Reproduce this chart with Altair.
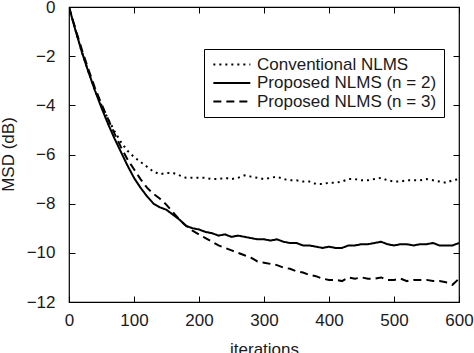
import altair as alt
import pandas as pd

iterations = list(range(0, 601, 10))

conventional = [0, -0.95, -1.85, -2.65, -3.4, -4.0, -4.55, -5.05, -5.5, -5.85,
                -6.1, -6.3, -6.5, -6.7, -6.8, -6.75, -6.75, -6.85, -6.95, -6.95,
                -6.95, -6.95, -7.0, -7.0, -6.95, -7.0, -6.95, -6.85, -6.9, -6.95,
                -7.0, -6.95, -6.9, -7.0, -7.05, -7.05, -7.1, -7.1, -7.2, -7.2,
                -7.15, -7.15, -7.1, -7.0, -7.0, -7.05, -7.05, -7.0, -6.95, -7.05,
                -7.1, -7.1, -7.05, -7.05, -7.05, -7.0, -7.05, -7.1, -7.15, -7.05,
                -7.0]

proposed_n2 = [0, -0.95, -1.85, -2.65, -3.4, -4.1, -4.75, -5.35, -5.9, -6.45,
               -6.95, -7.35, -7.7, -8.0, -8.15, -8.25, -8.45, -8.65, -8.9, -9.0,
               -9.05, -9.15, -9.2, -9.3, -9.25, -9.35, -9.3, -9.35, -9.4, -9.45,
               -9.45, -9.5, -9.45, -9.55, -9.6, -9.6, -9.7, -9.7, -9.75, -9.8,
               -9.75, -9.8, -9.8, -9.7, -9.7, -9.65, -9.65, -9.6, -9.55, -9.65,
               -9.7, -9.65, -9.65, -9.7, -9.65, -9.65, -9.6, -9.7, -9.7, -9.7,
               -9.6]

proposed_n3 = [0, -0.9, -1.75, -2.55, -3.3, -3.95, -4.55, -5.15, -5.7, -6.2,
               -6.6, -7.0, -7.35, -7.6, -7.8, -8.05, -8.35, -8.65, -8.9, -9.1,
               -9.25, -9.4, -9.55, -9.7, -9.8, -9.9, -10.0, -10.1, -10.2, -10.35,
               -10.4, -10.45, -10.5, -10.6, -10.65, -10.75, -10.8, -10.9, -10.95, -11.05,
               -11.1, -11.1, -11.15, -11.0, -11.05, -11.0, -11.05, -11.05, -11.0, -11.1,
               -11.1, -11.05, -11.15, -11.1, -11.1, -11.1, -11.15, -11.15, -11.2, -11.3,
               -11.05]

series_names = ["Conventional NLMS", "Proposed NLMS (n = 2)", "Proposed NLMS (n = 3)"]
x_ticks = [0, 100, 200, 300, 400, 500, 600]
y_ticks = [0, -2, -4, -6, -8, -10, -12]

rows = []
for name, vals in zip(series_names, [conventional, proposed_n2, proposed_n3]):
    for it, v in zip(iterations, vals):
        rows.append({"it": it, "value": v, "series": name})
df = pd.DataFrame(rows)

FONT = "Liberation Sans"
FS = 17
xs = alt.Scale(domain=[0, 600], nice=False, zero=False)
ys = alt.Scale(domain=[-12, 0], nice=False, zero=False)

lines = alt.Chart(df).mark_line(strokeWidth=2, color="black", clip=True).encode(
    x=alt.X("it:Q", scale=xs, axis=alt.Axis(
        orient="bottom", values=x_ticks, tickSize=0, domain=False, grid=False,
        labelFontSize=FS, labelFont=FONT, labelColor="#1a1a1a", labelPadding=10,
        labelFlush=False, labelOverlap=False, labelBound=False,
        title="iterations", titleFont=FONT, titleFontSize=FS, titleFontWeight="normal",
        titleColor="#1a1a1a", titleX=195, titleY=52, titleAlign="center",
        titleBaseline="alphabetic")),
    y=alt.Y("value:Q", scale=ys, axis=alt.Axis(
        orient="left", values=y_ticks, tickSize=0, domain=False, grid=False,
        labelFontSize=FS, labelFont=FONT, labelColor="#1a1a1a", labelPadding=14,
        labelFlush=False, labelOverlap=False, labelBound=False,
        title="MSD (dB)", titleFont=FONT, titleFontSize=FS, titleFontWeight="normal",
        titleColor="#1a1a1a", titleX=-61, titleY=147, titleAngle=270,
        titleAlign="center", titleBaseline="middle")),
    strokeDash=alt.StrokeDash("series:N", sort=series_names,
        scale=alt.Scale(domain=series_names, range=[[2, 4], [1, 0], [8, 5]]),
        legend=alt.Legend(
            title=None, orient="none", legendX=135, legendY=42,
            strokeColor="black", padding=7, fillColor="white",
            labelFont=FONT, labelFontSize=FS, labelColor="#1a1a1a", labelOffset=29,
            symbolType="M-1,0H5", symbolSize=152, symbolStrokeWidth=2,
            symbolStrokeColor="black", rowPadding=0.5, labelLimit=300)),
)

ticks_bl = alt.Chart(df).mark_point(opacity=0).encode(
    x=alt.X("it:Q", scale=xs, axis=alt.Axis(
        orient="bottom", values=x_ticks, offset=-6, tickSize=6, tickColor="black",
        labels=False, domain=False, grid=False, title=None)),
    y=alt.Y("value:Q", scale=ys, axis=alt.Axis(
        orient="left", values=y_ticks, offset=-6, tickSize=6, tickColor="black",
        labels=False, domain=False, grid=False, title=None)),
)

ticks_tr = alt.Chart(df).mark_point(opacity=0).encode(
    x=alt.X("it:Q", scale=xs, axis=alt.Axis(
        orient="top", values=x_ticks, offset=-6, tickSize=6, tickColor="black",
        labels=False, domain=False, grid=False, title=None)),
    y=alt.Y("value:Q", scale=ys, axis=alt.Axis(
        orient="right", values=y_ticks, offset=-6, tickSize=6, tickColor="black",
        labels=False, domain=False, grid=False, title=None)),
)

chart = alt.layer(lines, ticks_bl, ticks_tr).resolve_axis(
    x="independent", y="independent"
).properties(
    width=390, height=295,
    padding={"left": 69, "top": 7, "right": 15, "bottom": 51},
    autosize=alt.AutoSizeParams(type="none"),
    background="white",
).configure_view(stroke="black", strokeWidth=1.2)

chart.save("out.html", embed_options={"renderer": "svg", "actions": False})
